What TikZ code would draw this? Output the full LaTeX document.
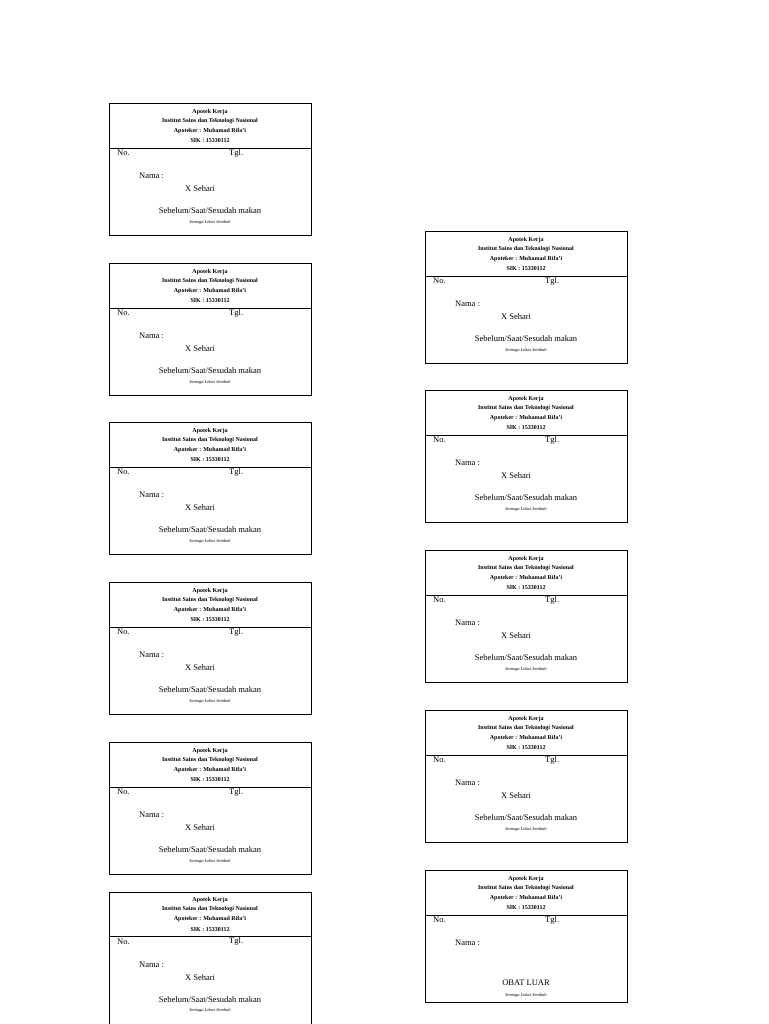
\documentclass[tikz,border=0pt]{standalone}
\usepackage{fontspec}
\setmainfont{Liberation Serif}
\tikzset{hd/.style={font=\fontsize{6}{6}\selectfont\bfseries, inner sep=0pt},
 tx/.style={font=\fontsize{8.5}{9}\selectfont, inner sep=0pt},
 sm/.style={font=\fontsize{4.5}{5}\selectfont\itshape, inner sep=0pt},
 frame/.style={draw, line width=0.6pt}}
\newcommand\apolabel[4]{% x y name last
 \begin{scope}[shift={(#1,#2)}]
 \node[frame, minimum width=202pt, minimum height=132pt, anchor=north west] (#3) at (0,0) {};
 \draw[line width=0.6pt] (#3.west |- 0,45) -- (#3.east |- 0,45);
 \node[hd] (#3h1) at (101,9) {Apotek Kerja};
 \node[hd] (#3h2) at (101,18) {Institut Sains dan Teknologi Nasional};
 \node[hd] (#3h3) at (101,28) {Apoteker : Muhamad Rifa'i};
 \node[hd] (#3h4) at (101,38) {SIK : 15330112};
 \node[tx, anchor=west] (#3no) at (8,50) {No.};
 \node[tx, anchor=west] (#3tg) at (120,50) {Tgl.};
 \node[tx, anchor=west] (#3nm) at (30,73) {Nama :};
 \ifnum#4=0
 \node[tx] (#3xs) at (91,86) {X Sehari};
 \node[tx] (#3sb) at (101,108) {Sebelum/Saat/Sesudah makan};
 \node[sm] (#3sg) at (101,119) {Semoga Lekas Sembuh};
 \else
 \node[tx] (#3ob) at (101,113) {OBAT LUAR};
 \node[sm] (#3sg) at (101,125) {Semoga Lekas Sembuh};
 \fi
 \end{scope}}
\begin{document}
\begin{tikzpicture}[x=1pt,y=-1pt]
\useasboundingbox[fill=white] (0,0) rectangle (768,1024);
\apolabel{109}{103}{La}{0}
\apolabel{109}{263}{Lb}{0}
\apolabel{109}{422}{Lc}{0}
\apolabel{109}{582}{Ld}{0}
\apolabel{109}{742}{Le}{0}
\apolabel{109}{891.5}{Lf}{0}
\apolabel{425}{231}{Ra}{0}
\apolabel{425}{390}{Rb}{0}
\apolabel{425}{550}{Rc}{0}
\apolabel{425}{710}{Rd}{0}
\apolabel{425}{870}{Re}{1}
\end{tikzpicture}
\end{document}
